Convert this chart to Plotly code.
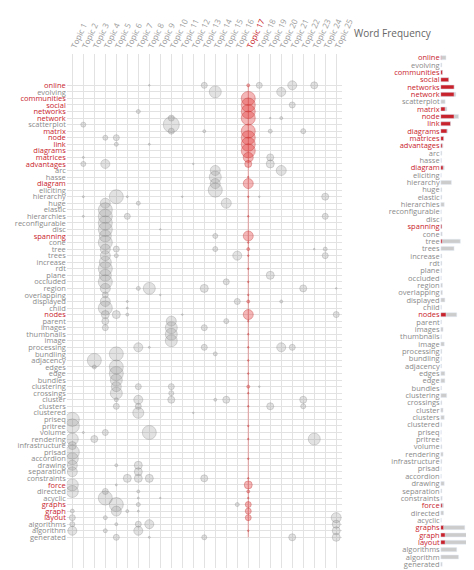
import plotly.graph_objects as go
from plotly.subplots import make_subplots

words = ["online", "evolving", "communities", "social", "networks", "network",
         "scatterplot", "matrix", "node", "link", "diagrams", "matrices",
         "advantages", "arc", "hasse", "diagram", "eliciting", "hierarchy",
         "huge", "elastic", "hierarchies", "reconfigurable", "disc", "spanning",
         "cone", "tree", "trees", "increase", "rdt", "plane", "occluded",
         "region", "overlapping", "displayed", "child", "nodes", "parent",
         "images", "thumbnails", "image", "processing", "bundling", "adjacency",
         "edges", "edge", "bundles", "clustering", "crossings", "cluster",
         "clusters", "clustered", "priseq", "pritree", "volume", "rendering",
         "infrastructure", "prisad", "accordion", "drawing", "separation",
         "constraints", "force", "directed", "acyclic", "graphs", "graph",
         "layout", "algorithms", "algorithm", "generated"]

red_words = ["online", "communities", "social", "networks", "network", "matrix",
             "node", "link", "diagrams", "matrices", "advantages", "diagram",
             "spanning", "nodes", "force", "graphs", "graph", "layout"]

topics = list(range(1, 26))
highlight_topic = 17

# word frequency: total and the part belonging to the highlighted topic
freq_total = [6, 1.3, 2, 9, 15, 17, 5, 7, 20, 11, 8, 3.3, 2.7, 1.3, 1, 4,
              0.7, 12, 1.3, 1.3, 4, 0.7, 1.3, 1.3, 1.7, 22, 15, 1.3, 1.3, 1.3,
              0.7, 2, 2, 4.7, 1, 18, 1, 2.7, 1, 4, 1.3, 1, 1, 4.7, 4.7, 1,
              6.7, 1.3, 2.7, 4, 1.3, 0.7, 0.7, 1.3, 2.7, 1.3, 0.7, 0.7, 4,
              1.3, 1.7, 3.3, 3.3, 0.7, 27, 42, 40, 18, 20, 1.7]
freq_topic = [0.7, 0, 2, 9, 15, 15, 0, 5, 15, 11, 7, 3.3, 1.7, 0, 0, 2.7,
              0, 0, 0, 0, 0, 0, 0, 1.3, 0, 1.7, 0, 0, 0, 0,
              0, 0, 0, 0, 0, 6, 0, 0, 0, 0, 0, 0, 0, 0, 0, 0,
              0, 0, 0, 0, 0, 0, 0, 0, 0, 0, 0, 0, 0,
              0, 0, 1.7, 0, 0, 3.3, 5, 5, 0, 0, 0]

# (topic, word, radius)
cells = [
    (1, "priseq", 7), (1, "pritree", 7), (1, "rendering", 6), (1, "infrastructure", 4),
    (1, "prisad", 7), (1, "accordion", 6), (1, "drawing", 5), (1, "separation", 5),
    (1, "force", 6), (1, "directed", 6), (1, "graph", 2), (1, "layout", 3),
    (1, "algorithms", 2.5), (1, "algorithm", 4.5),
    (2, "scatterplot", 2.5), (2, "advantages", 2.5), (2, "volume", 1), (2, "hierarchy", 1),
    (2, "hierarchies", 1), (2, "matrices", 1),
    (3, "adjacency", 7), (3, "edges", 2), (3, "rendering", 3.5),
    (4, "node", 2.5), (4, "advantages", 4.5), (4, "huge", 5), (4, "elastic", 7),
    (4, "hierarchies", 7), (4, "reconfigurable", 7), (4, "disc", 7), (4, "spanning", 6),
    (4, "cone", 7), (4, "tree", 5), (4, "trees", 5), (4, "increase", 6), (4, "rdt", 7),
    (4, "plane", 6), (4, "occluded", 7), (4, "region", 5), (4, "overlapping", 3),
    (4, "displayed", 5), (4, "child", 7), (4, "nodes", 4), (4, "parent", 3.5),
    (4, "images", 3), (4, "volume", 3), (4, "directed", 3), (4, "acyclic", 7),
    (4, "layout", 2), (4, "algorithm", 2),
    (5, "node", 3), (5, "link", 2), (5, "hierarchy", 7), (5, "tree", 3), (5, "trees", 2),
    (5, "nodes", 4), (5, "bundling", 7), (5, "edges", 7), (5, "edge", 7), (5, "bundles", 6),
    (5, "clustering", 5), (5, "crossings", 6), (5, "cluster", 2), (5, "clusters", 3),
    (5, "drawing", 1.5), (5, "force", 1), (5, "graphs", 7), (5, "graph", 5),
    (5, "algorithms", 1.5), (5, "generated", 3),
    (6, "hierarchies", 3), (6, "displayed", 1), (6, "nodes", 1.5), (6, "constraints", 4),
    (6, "graph", 1.5), (6, "hierarchy", 1), (6, "child", 1),
    (7, "networks", 2), (7, "huge", 2), (7, "region", 2), (7, "processing", 4.5),
    (7, "clustering", 3), (7, "cluster", 4.5), (7, "clusters", 3), (7, "clustered", 5.5),
    (7, "drawing", 4), (7, "separation", 4), (7, "constraints", 4), (7, "directed", 1.5),
    (7, "acyclic", 1), (7, "graphs", 2), (7, "graph", 1), (7, "algorithms", 3),
    (7, "algorithm", 4.5),
    (8, "link", 1), (8, "region", 6), (8, "processing", 1), (8, "volume", 7),
    (8, "constraints", 4), (8, "algorithms", 4.5), (8, "generated", 1), (8, "online", 0.8),
    (9, "disc", 0.8), (9, "overlapping", 0.8), (9, "acyclic", 0.8),
    (10, "network", 3), (10, "scatterplot", 8), (10, "matrix", 3), (10, "parent", 5),
    (10, "images", 6), (10, "thumbnails", 6), (10, "image", 6), (10, "clustering", 3),
    (10, "crossings", 2.5), (10, "cluster", 3.5),
    (11, "hierarchy", 0.8), (11, "nodes", 0.8), (12, "advantages", 0.8), (12, "clustered", 0.8),
    (13, "online", 3), (13, "matrix", 1.5), (13, "region", 4), (13, "images", 3),
    (13, "processing", 3), (13, "constraints", 3.5), (13, "generated", 2.5),
    (14, "evolving", 6), (14, "arc", 5), (14, "hasse", 6), (14, "diagram", 5),
    (14, "eliciting", 7), (14, "spanning", 2.5), (14, "tree", 2.5), (14, "bundling", 2),
    (14, "cluster", 1.5),
    (15, "huge", 5), (15, "occluded", 3), (15, "parent", 2.5), (15, "cluster", 3.5),
    (16, "trees", 4.5), (16, "displayed", 3), (16, "graphs", 2),
    (18, "online", 3), (18, "hierarchy", 0.8), (18, "clustering", 0.8),
    (19, "matrix", 2), (19, "matrices", 3.5), (19, "advantages", 4), (19, "plane", 4),
    (19, "clusters", 3.5), (19, "network", 0.8),
    (20, "evolving", 4.5), (20, "network", 1.5), (20, "arc", 5), (20, "displayed", 1.5),
    (20, "processing", 4.5),
    (21, "online", 4.5), (21, "social", 3), (21, "processing", 3), (21, "generated", 3.5),
    (22, "matrix", 2.5), (22, "region", 3.5), (22, "cluster", 3.5), (22, "clusters", 2.5),
    (23, "online", 3.5), (23, "rendering", 6), (23, "tree", 0.8),
    (24, "hierarchy", 3.5), (24, "hierarchies", 3), (24, "tree", 2), (24, "trees", 3),
    (25, "nodes", 3), (25, "layout", 5), (25, "algorithms", 4), (25, "algorithm", 4),
    (25, "generated", 4), (25, "region", 0.8),
    (17, "online", 1.5), (17, "communities", 7), (17, "social", 7), (17, "networks", 7),
    (17, "network", 7), (17, "matrix", 7), (17, "node", 7), (17, "link", 7),
    (17, "diagrams", 7), (17, "matrices", 5), (17, "advantages", 3.5), (17, "diagram", 5),
    (17, "spanning", 5), (17, "tree", 1.5), (17, "displayed", 1.5), (17, "nodes", 5),
    (17, "clustering", 1.5), (17, "force", 4), (17, "directed", 1.5), (17, "graphs", 3),
    (17, "graph", 3), (17, "layout", 3),
    (17, "hasse", 0.8), (17, "hierarchy", 0.8), (17, "hierarchies", 0.8), (17, "cone", 0.8),
    (17, "trees", 0.8), (17, "rdt", 0.8), (17, "occluded", 0.8), (17, "overlapping", 0.8),
    (17, "parent", 0.8), (17, "thumbnails", 0.8), (17, "processing", 0.8), (17, "adjacency", 0.8),
    (17, "edge", 0.8), (17, "crossings", 0.8), (17, "clusters", 0.8), (17, "pritree", 0.8),
    (17, "rendering", 0.8), (17, "accordion", 0.8), (17, "constraints", 0.8),
    (17, "acyclic", 0.8), (17, "algorithm", 0.8),
]

RED = "#c8232c"
GRAY = "#8a8a8a"

fig = make_subplots(rows=1, cols=2, column_widths=[0.67, 0.33], horizontal_spacing=0.0)

grey_cells = [c for c in cells if c[0] != highlight_topic]
red_cells = [c for c in cells if c[0] == highlight_topic]

# red guide line for the selected topic
fig.add_trace(go.Scatter(x=[highlight_topic, highlight_topic], y=[words[0], words[-1]],
                         mode="lines", line=dict(color="rgba(220,60,60,0.45)", width=1),
                         hoverinfo="skip", showlegend=False), row=1, col=1)
fig.add_trace(go.Scatter(x=[c[0] for c in grey_cells], y=[c[1] for c in grey_cells],
                         mode="markers",
                         marker=dict(size=[2 * c[2] for c in grey_cells],
                                     color="rgba(140,140,140,0.35)",
                                     line=dict(color="rgba(120,120,120,0.6)", width=0.7)),
                         showlegend=False), row=1, col=1)
fig.add_trace(go.Scatter(x=[c[0] for c in red_cells], y=[c[1] for c in red_cells],
                         mode="markers",
                         marker=dict(size=[2 * c[2] for c in red_cells],
                                     color="rgba(225,50,50,0.5)",
                                     line=dict(color="rgba(190,30,30,0.7)", width=0.7)),
                         showlegend=False), row=1, col=1)

# frequency bars
fig.add_trace(go.Bar(y=words, x=freq_total, orientation="h", marker_color="#cccccc",
                     width=0.55, showlegend=False), row=1, col=2)
fig.add_trace(go.Bar(y=words, x=freq_topic, orientation="h", marker_color=RED,
                     width=0.55, showlegend=False), row=1, col=2)


def word_tick(w):
    color = RED if w in red_words else GRAY
    return "<span style='color:%s'>%s</span>" % (color, w)


def topic_tick(t):
    color = RED if t == highlight_topic else "#999999"
    return "<span style='color:%s'>Topic %d</span>" % (color, t)


fig.update_layout(
    width=474, height=570, barmode="overlay",
    margin=dict(l=58, r=2, t=46, b=10),
    plot_bgcolor="white", paper_bgcolor="white",
    font=dict(family="Open Sans", size=8, color=GRAY),
    xaxis=dict(domain=[0.002, 0.666], range=[0.5, 25.5], side="top",
               tickvals=topics, ticktext=[topic_tick(t) for t in topics],
               tickangle=-65, showgrid=True, gridcolor="#e2e2e2", gridwidth=1,
               zeroline=False, showline=False, ticks="", automargin=False,
               tickfont=dict(size=8)),
    yaxis=dict(categoryorder="array", categoryarray=words, autorange="reversed",
               tickvals=words, ticktext=[word_tick(w) for w in words],
               showgrid=True, gridcolor="#e2e2e2", ticks="", automargin=False,
               tickfont=dict(size=7.5)),
    xaxis2=dict(domain=[0.905, 1.0], range=[0, 44], visible=False),
    yaxis2=dict(categoryorder="array", categoryarray=words, autorange="reversed",
                tickvals=words, ticktext=[word_tick(w) for w in words],
                showgrid=False, ticks="", automargin=False, tickfont=dict(size=7.5)),
    annotations=[dict(text="Word Frequency", x=0.89, y=1.0, xref="paper", yref="paper",
                      yanchor="bottom", yshift=12, showarrow=False,
                      font=dict(size=10, color="#666666"))],
)

fig.write_html("out.html")
